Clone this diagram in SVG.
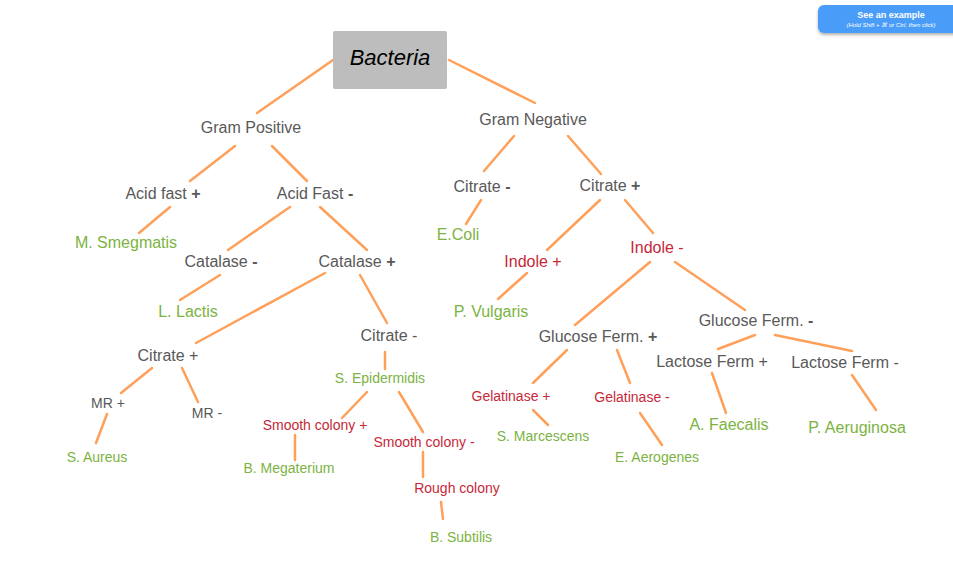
<svg xmlns="http://www.w3.org/2000/svg" width="953" height="562" viewBox="0 0 953 562">
<style>
text{font-family:"Liberation Sans",Arial,sans-serif;text-anchor:middle}
.g{fill:#595959;font-size:16px}
.s{fill:#7cb342;font-size:16px}
.r{fill:#c62838;font-size:14px}
.gr{fill:#7cb342;font-size:16px}
.rb{fill:#c62838;font-size:16px}
.b{font-weight:bold}
#edges line{stroke:#ffa05a;stroke-width:2.5;stroke-linecap:round}
</style>
<defs><filter id="sh" x="-10%" y="-20%" width="120%" height="160%"><feDropShadow dx="0" dy="2" stdDeviation="1.5" flood-opacity="0.3"/></filter></defs>
<rect width="953" height="562" fill="#fff"/>
<g id="edges">
<line x1="333" y1="60" x2="257" y2="113"/><line x1="449" y1="60" x2="535" y2="103"/>
<line x1="235" y1="146" x2="190" y2="181"/><line x1="272" y1="146" x2="307" y2="181"/>
<line x1="170" y1="207" x2="139" y2="233"/><line x1="290" y1="207" x2="228" y2="250"/>
<line x1="320" y1="207" x2="367" y2="250"/><line x1="220" y1="275" x2="180" y2="300"/>
<line x1="325" y1="273" x2="196" y2="343"/><line x1="360" y1="275" x2="387" y2="323"/>
<line x1="385" y1="352" x2="385" y2="369"/><line x1="152" y1="368" x2="121" y2="393"/>
<line x1="182" y1="368" x2="198" y2="402"/><line x1="107" y1="414" x2="96" y2="443"/>
<line x1="367" y1="392" x2="342" y2="418"/><line x1="399" y1="392" x2="423" y2="432"/>
<line x1="295" y1="435" x2="295" y2="460"/><line x1="423" y1="452" x2="423" y2="477"/>
<line x1="441" y1="502" x2="443" y2="519"/><line x1="514" y1="136" x2="484" y2="171"/>
<line x1="568" y1="136" x2="601" y2="174"/><line x1="481" y1="200" x2="466" y2="224"/>
<line x1="600" y1="200" x2="547" y2="250"/><line x1="625" y1="200" x2="653" y2="233"/>
<line x1="527" y1="273" x2="498" y2="299"/><line x1="650" y1="262" x2="575" y2="325"/>
<line x1="675" y1="262" x2="745" y2="310"/><line x1="567" y1="350" x2="533" y2="383"/>
<line x1="617" y1="350" x2="630" y2="383"/><line x1="533" y1="410" x2="548" y2="425"/>
<line x1="640" y1="413" x2="662" y2="445"/><line x1="755" y1="335" x2="718" y2="349"/>
<line x1="775" y1="335" x2="852" y2="351"/><line x1="712" y1="373" x2="726" y2="413"/>
<line x1="852" y1="375" x2="876" y2="410"/>
</g>
<g id="bacteria"><rect x="333" y="31" width="114" height="58" fill="#bdbdbd" rx="2"/><text x="390" y="65" style="font-size:22px;font-style:italic;fill:#000">Bacteria</text></g>
<g id="gp"><text class="g" x="251" y="133">Gram Positive</text></g>
<g id="gn"><text class="g" x="533" y="125">Gram Negative</text></g>
<g id="af1"><text class="g" x="163" y="199">Acid fast <tspan class="b">+</tspan></text></g>
<g id="af2"><text class="g" x="315" y="199">Acid Fast <tspan class="b">-</tspan></text></g>
<g id="msm"><text class="s" x="126" y="248">M. Smegmatis</text></g>
<g id="cat1"><text class="g" x="221" y="267">Catalase <tspan class="b">-</tspan></text></g>
<g id="cat2"><text class="g" x="357" y="267">Catalase <tspan class="b">+</tspan></text></g>
<g id="ll"><text class="s" x="188" y="317">L. Lactis</text></g>
<g id="cit1"><text class="g" x="168" y="361">Citrate +</text></g>
<g id="cit2"><text class="g" x="389" y="341">Citrate -</text></g>
<g id="sep"><text class="r" x="380" y="383" style="fill:#7cb342">S. Epidermidis</text></g>
<g id="mrp"><text style="fill:#595959;font-size:14px" x="108" y="408">MR +</text></g>
<g id="mrm"><text style="fill:#595959;font-size:14px" x="207" y="418">MR -</text></g>
<g id="sau"><text class="r" x="97" y="462" style="fill:#7cb342">S. Aureus</text></g>
<g id="smp"><text class="r" x="315" y="430">Smooth colony  +</text></g>
<g id="smm"><text class="r" x="424" y="447">Smooth colony -</text></g>
<g id="bmeg"><text class="r" x="289" y="473" style="fill:#7cb342">B. Megaterium</text></g>
<g id="rough"><text class="r" x="457" y="493">Rough colony</text></g>
<g id="bsub"><text class="r" x="461" y="542" style="fill:#7cb342">B. Subtilis</text></g>
<g id="cn1"><text class="g" x="482" y="192">Citrate <tspan class="b">-</tspan></text></g>
<g id="cn2"><text class="g" x="610" y="191">Citrate <tspan class="b">+</tspan></text></g>
<g id="ecoli"><text class="gr" x="458" y="240">E.Coli</text></g>
<g id="indp"><text class="rb" x="533" y="267">Indole +</text></g>
<g id="indm"><text class="rb" x="657" y="253">Indole -</text></g>
<g id="pvul"><text class="s" x="491" y="317">P. Vulgaris</text></g>
<g id="gfp"><text class="g" x="598" y="342">Glucose Ferm. <tspan class="b">+</tspan></text></g>
<g id="gfm"><text class="g" x="756" y="326">Glucose Ferm. <tspan class="b">-</tspan></text></g>
<g id="gelp"><text class="r" x="511" y="401">Gelatinase +</text></g>
<g id="gelm"><text class="r" x="632" y="402">Gelatinase -</text></g>
<g id="smar"><text class="r" x="543" y="441" style="fill:#7cb342">S. Marcescens</text></g>
<g id="eaer"><text class="r" x="657" y="462" style="fill:#7cb342">E. Aerogenes</text></g>
<g id="lfp"><text class="g" x="712" y="367">Lactose Ferm +</text></g>
<g id="lfm"><text class="g" x="845" y="368">Lactose Ferm -</text></g>
<g id="afae"><text class="gr" x="729" y="430">A. Faecalis</text></g>
<g id="paer"><text class="gr" x="857" y="433">P. Aeruginosa</text></g>
<g id="example"><rect x="818" y="5" width="145" height="28" rx="6" fill="#4a9cf7" filter="url(#sh)"/><text x="891" y="18" style="fill:#fff;font-size:9px;font-weight:bold">See an example</text><text x="891" y="27" style="fill:#fff;font-size:6px;font-style:italic">(Hold Shift + ⌘ or Ctrl, then click)</text></g>
</svg>
